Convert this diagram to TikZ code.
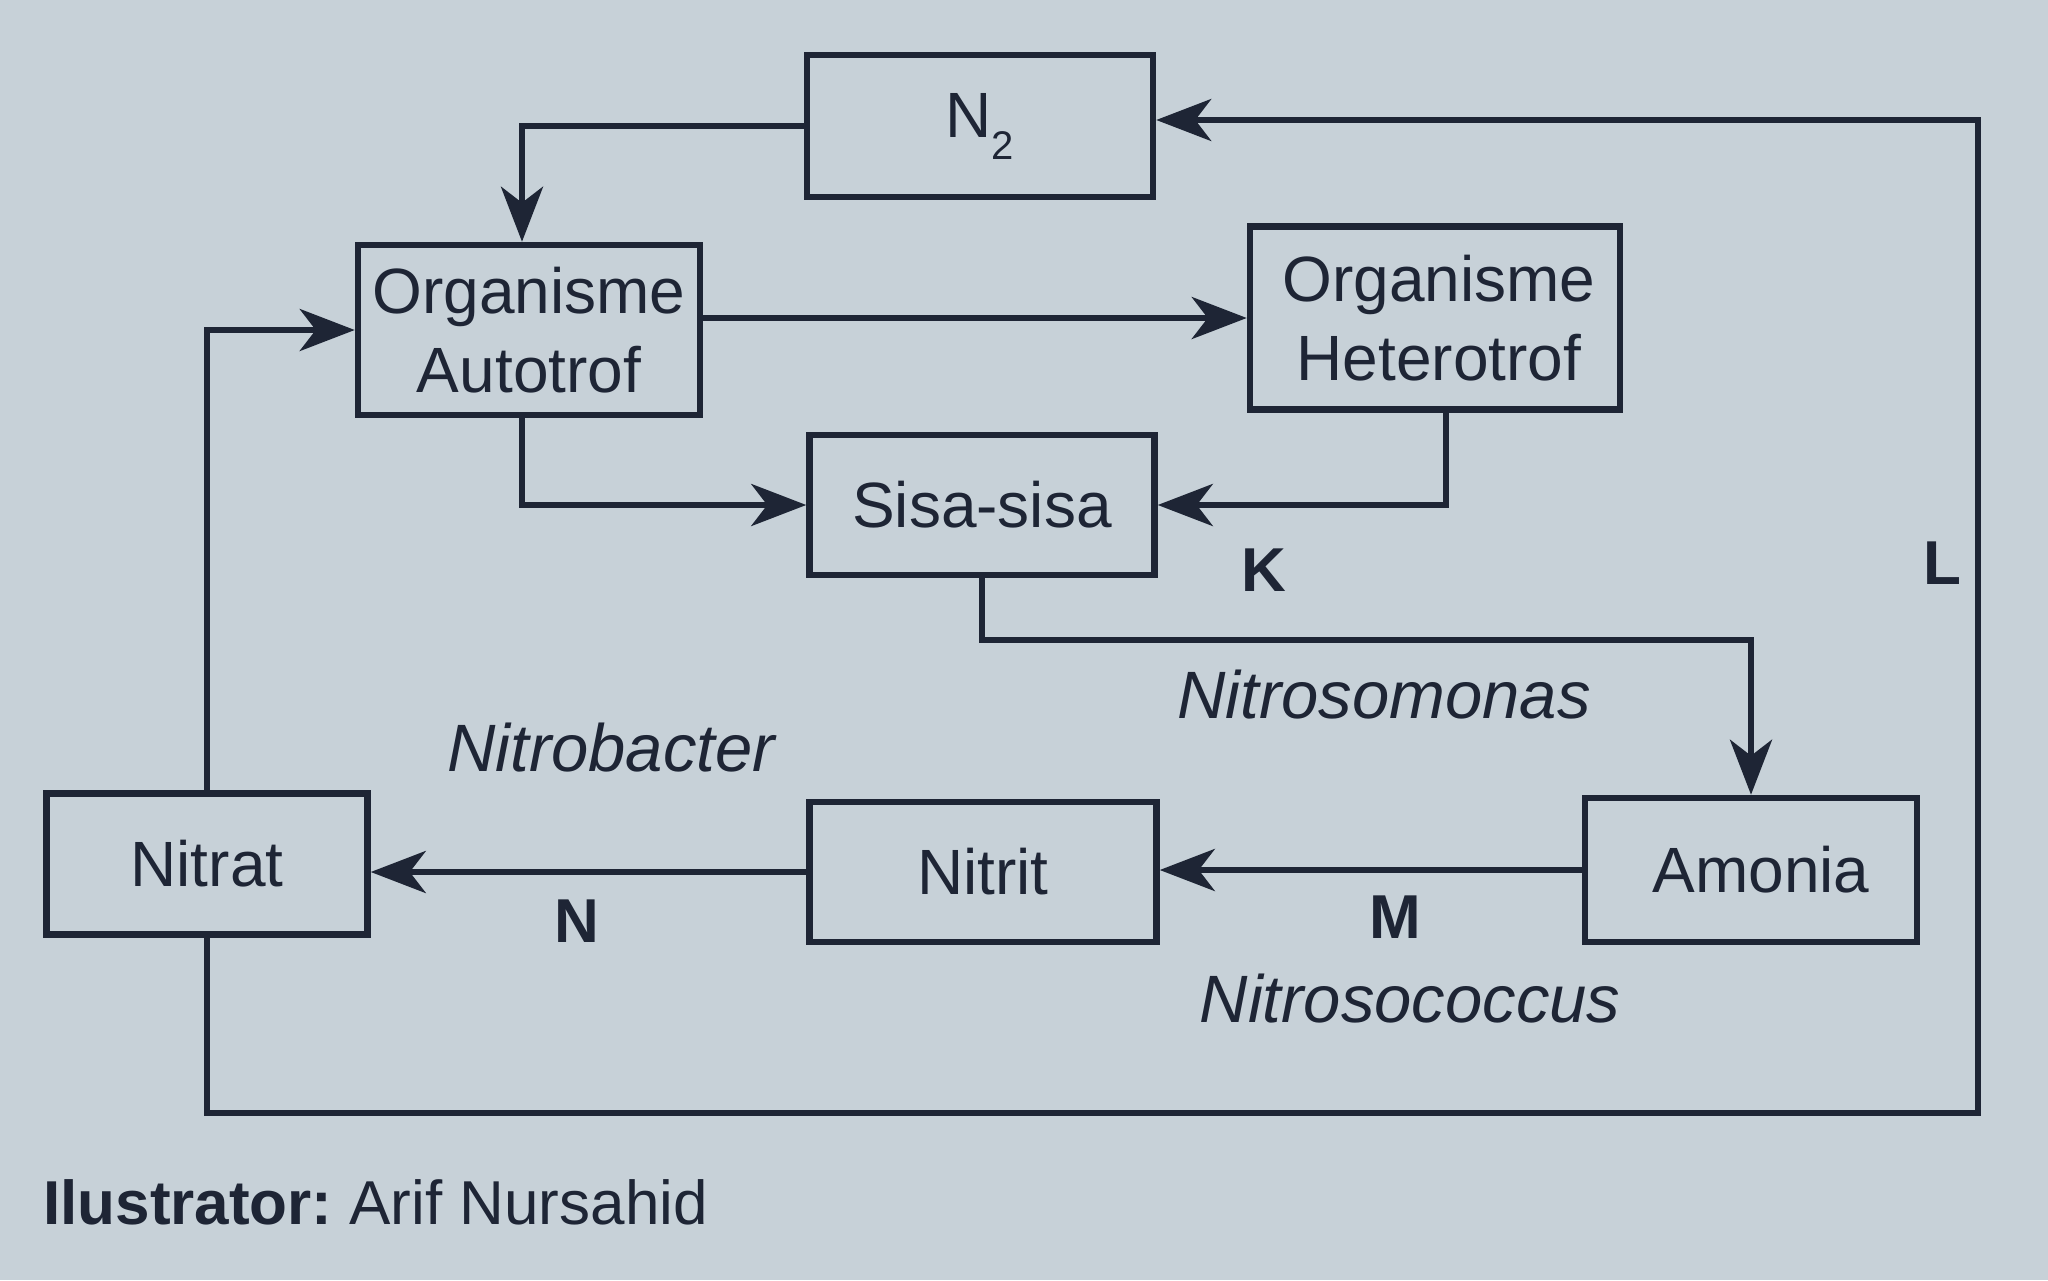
\documentclass[tikz,border=0pt]{standalone}
\usepackage{fontspec}
\setmainfont{Liberation Sans}
\usetikzlibrary{arrows.meta}
\definecolor{paper}{HTML}{C7D1D8}
\definecolor{ink}{HTML}{1E2535}
\begin{document}
\begin{tikzpicture}[x=1pt,y=-1pt,
  box/.style={draw=ink,line width=6.5pt,rectangle,inner sep=0pt,align=center,
    text=ink,font=\fontsize{64}{79}\selectfont},
  arr/.style={draw=ink,line width=6pt,-{Stealth[length=55pt,width=42pt,inset=16pt]}},
  lab/.style={text=ink,inner sep=0pt,font=\fontsize{67}{70}\selectfont\itshape},
  blab/.style={text=ink,inner sep=0pt,font=\fontsize{62}{70}\selectfont\bfseries}]
\fill[paper] (0,0) rectangle (2048,1280);
\useasboundingbox (0,0) rectangle (2048,1280);
% boxes
\node[box,minimum width=346pt,minimum height=142pt] (n2) at (980,126)
  {N\raisebox{-22pt}{\fontsize{40}{40}\selectfont 2}};
\node[box,minimum width=342pt,minimum height=170pt] (auto) at (529,330)
  {Organisme\\Autotrof};
\node[box,minimum width=370pt,minimum height=183pt] (hetero) at (1435,318)
  {\hspace*{8pt}Organisme\\\hspace*{8pt}Heterotrof};
\node[box,minimum width=345pt,minimum height=140pt] (sisa) at (982,505) {Sisa-sisa};
\node[box,minimum width=321pt,minimum height=141pt] (nitrat) at (207,864) {Nitrat};
\node[box,minimum width=347pt,minimum height=140pt] (nitrit) at (983,872) {Nitrit};
\node[box,minimum width=332pt,minimum height=144pt] (amonia) at (1751,870)
  {\hspace*{20pt}Amonia};
% loop corners
\coordinate (cbr) at (1978,1113);
% connectors
\draw[arr] (n2.west) -| ([xshift=-7pt]auto.north);
\draw[arr,line width=5.5pt] (nitrat.south) |- (cbr) |- ([yshift=6pt]n2.east);
\draw[arr] (nitrat.north) |- (auto.west);
\draw[arr] (auto.east |- hetero.west) -- (hetero.west);
\draw[arr] ([xshift=-7pt]auto.south) |- (sisa.west);
\draw[arr] ([xshift=11pt]hetero.south) |- (sisa.east);
\draw[arr] (sisa.south) |- ([yshift=155pt]amonia.north) -- (amonia.north);
\draw[arr] (amonia.west) -- (amonia.west -| nitrit.east);
\draw[arr] (nitrit.west) -- (nitrit.west -| nitrat.east);
% labels
\node[blab] (lk) at (1264,570) {K};
\node[blab] (ll) at (1942,563) {L};
\node[blab] (ln) at (577,921) {N};
\node[blab] (lm) at (1395,917) {M};
\node[lab] (nsm) at (1384,695) {Nitrosomonas};
\node[lab] (nb) at (611,748) {Nitrobacter};
\node[lab] (nsc) at (1410,999) {Nitrosococcus};
\node[text=ink,inner sep=0pt,anchor=west,font=\fontsize{62}{70}\selectfont] (ilu) at (43,1202)
  {\textbf{Ilustrator:}\hspace{-6pt} Arif Nursahid};
\end{tikzpicture}
\end{document}
